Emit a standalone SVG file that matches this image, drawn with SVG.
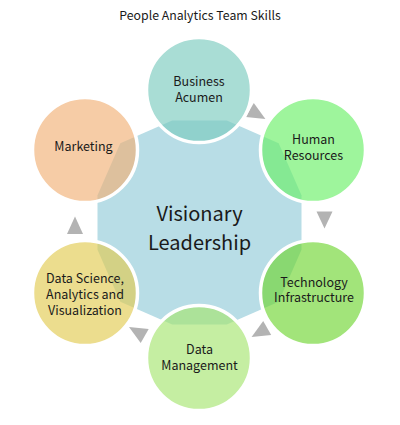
<svg xmlns="http://www.w3.org/2000/svg" width="400" height="425" viewBox="0 0 400 425">
<style>
text{font-family:"Noto Sans CJK SC","Noto Sans",sans-serif;fill:#1a1a1a;text-anchor:middle}
.h{font-size:12.3px}
.t{font-size:12.5px}
.c{font-size:20px}
.node{stroke:#ffffff;stroke-width:3.5;fill-opacity:0.65}
.arr{fill:#b3b3b3}
</style>
<rect width="400" height="425" fill="#ffffff"/>
<text x="200" y="19.5" class="h">People Analytics Team Skills</text>
<g id="center">
<polygon fill="#b8dde6" points="301.5,195.2 278.7,143.3 226.8,120.5 172.2,120.5 120.3,143.3 97.5,195.2 97.5,249.8 120.3,301.7 172.2,324.5 226.8,324.5 278.7,301.7 301.5,249.8"/>
<text x="199.5" y="221" class="c">Visionary</text>
<text x="199.5" y="250" class="c">Leadership</text>
</g>
<g id="connectors">
<polygon class="arr" points="245.8,116.9 253.8,103.1 265.4,119"/>
<polygon class="arr" points="316.5,211.5 332.5,211.5 324.5,228.5"/>
<polygon class="arr" points="271.2,334.9 263.2,321.1 251.6,337"/>
<polygon class="arr" points="140.7,342.9 148.7,329.1 129,327"/>
<polygon class="arr" points="67,234 83,234 75,216.5"/>
</g>
<g id="business-acumen">
<circle class="node" cx="199" cy="90" r="52.5" fill="#7bcbbe"/>
<text x="199" y="86" class="t">Business</text>
<text x="199" y="102" class="t">Acumen</text>
</g>
<g id="human-resources">
<circle class="node" cx="313" cy="150" r="52.5" fill="#6af067"/>
<text x="313.5" y="144" class="t">Human</text>
<text x="313.5" y="160" class="t">Resources</text>
</g>
<g id="technology-infrastructure">
<circle class="node" cx="313" cy="293" r="52.5" fill="#70d632"/>
<text x="314" y="286.5" class="t">Technology</text>
<text x="314" y="302" class="t">Infrastructure</text>
</g>
<g id="data-management">
<circle class="node" cx="199" cy="358" r="52.5" fill="#a6e570"/>
<text x="199.5" y="354" class="t">Data</text>
<text x="199.5" y="370" class="t">Management</text>
</g>
<g id="data-science">
<circle class="node" cx="85" cy="293" r="52.5" fill="#e2cb51"/>
<text x="85" y="283" class="t">Data Science,</text>
<text x="85" y="299" class="t">Analytics and</text>
<text x="85" y="315" class="t">Visualization</text>
</g>
<g id="marketing">
<circle class="node" cx="85" cy="150" r="52.5" fill="#f1b176"/>
<text x="83.5" y="151" class="t">Marketing</text>
</g>
</svg>
